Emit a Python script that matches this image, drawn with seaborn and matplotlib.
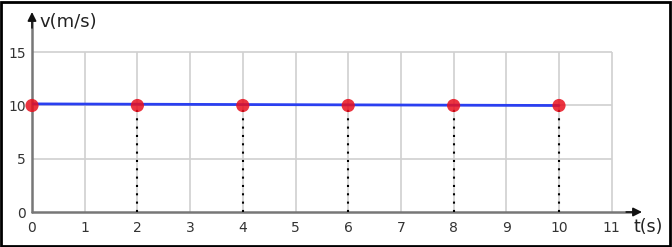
import matplotlib
matplotlib.use("Agg")
import matplotlib.pyplot as plt
import seaborn as sns
import pandas as pd

sns.set_style("white")
plt.rcParams['font.family'] = ['DejaVu Sans']

t_points = [0, 2, 4, 6, 8, 10]
v_points = [10, 10, 10, 10, 10, 10]
t_line = [0, 10]
v_line = [10.15, 10.0]
x_ticks = list(range(0, 12))
y_ticks = [0, 5, 10, 15]

fig = plt.figure(figsize=(6.72, 2.47), dpi=100)
ax = fig.add_axes([32/672, 35/247, (642-32)/672, (212-12)/247])
x_max = (642 - 32) / 52.7
y_max = (212 - 12) / 10.65
ax.set_xlim(0, x_max)
ax.set_ylim(0, y_max)

for s in ax.spines.values():
    s.set_visible(False)

grid_c = '#d0d0d0'
ax.hlines([y for y in y_ticks if y > 0], 0, 11, color=grid_c, lw=1.2, zorder=0)
ax.vlines([x for x in x_ticks if x > 0], 0, 15, color=grid_c, lw=1.2, zorder=0)

axis_c = '#777777'
ax.plot([0, x_max - 0.15], [0, 0], color=axis_c, lw=1.8, clip_on=False, zorder=1)
ax.plot([0, 0], [0, y_max - 0.8], color=axis_c, lw=1.8, clip_on=False, zorder=1)
ax.annotate('', xy=(x_max, 0), xytext=(x_max - 0.3, 0),
            arrowprops=dict(arrowstyle='-|>', color='#111111', lw=1.2, mutation_scale=13,
                            shrinkA=0, shrinkB=0), annotation_clip=False)
ax.annotate('', xy=(0, y_max), xytext=(0, y_max - 1.5),
            arrowprops=dict(arrowstyle='-|>', color='#111111', lw=1.2, mutation_scale=13,
                            shrinkA=0, shrinkB=0), annotation_clip=False)

# dotted drop lines
for tx, vy in zip(t_points, v_points):
    if tx > 0:
        ax.plot([tx, tx], [0, vy], color='black', ls=(0, (1, 3)), lw=1.5, zorder=2)

df_line = pd.DataFrame({'t': t_line, 'v': v_line})
sns.lineplot(data=df_line, x='t', y='v', ax=ax, color='#2a3ff0', lw=2, zorder=3)
df_pts = pd.DataFrame({'t': t_points, 'v': v_points})
sns.scatterplot(data=df_pts, x='t', y='v', ax=ax, color='#e8101e', s=90, alpha=0.85,
                edgecolor='none', zorder=4, clip_on=False)

ax.set_xticks(x_ticks)
ax.set_yticks(y_ticks)
ax.set_xticklabels([str(x) for x in x_ticks])
ax.set_yticklabels([str(y) for y in y_ticks])
ax.tick_params(axis='both', direction='inout', length=7, width=1.2, color=axis_c,
               labelsize=10, labelcolor='#333333', pad=1)
ax.tick_params(axis='x', pad=3)
ax.set_xlabel('')
ax.set_ylabel('')

ax.text(0.15, 17.8, 'v(m/s)', fontsize=13, color='#222222', va='center', ha='left')
ax.text(11.42, -1.45, 't(s)', fontsize=12.5, color='#222222', va='center', ha='left')

fig.patches.append(plt.Rectangle((0.0015, 0.003), 0.995, 0.99, transform=fig.transFigure,
                                 fill=False, edgecolor='black', lw=2))
fig.savefig('out.png', dpi=100)
